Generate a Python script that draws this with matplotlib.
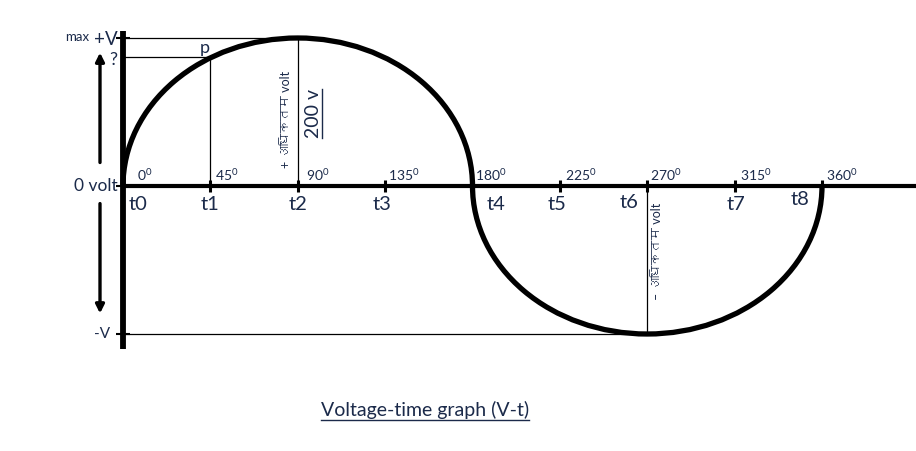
import matplotlib
matplotlib.use("Agg")
import matplotlib.pyplot as plt
from matplotlib.patches import Arc
from matplotlib import font_manager
from matplotlib.ft2font import FT2Font

# ---------------- data ----------------
VMAX = 200                      # peak voltage (V)
P_VALUE = 174                   # value at point p (45 deg)
angles = [0, 45, 90, 135, 180, 225, 270, 315, 360]
time_labels = ["t0", "t1", "t2", "t3", "t4", "t5", "t6", "t7", "t8"]
degree_numbers = ["0", "45", "90", "135", "180", "225", "270", "315", "360"]
title_text = "Voltage-time graph (V-t)"
pos_text = "+ अधिकतम volt"
neg_text = "– अधिकतम volt"
peak_text = "200 v"

# ---------------- fonts ----------------
deva = None
for f in font_manager.fontManager.ttflist:
    try:
        if 0x0905 in FT2Font(f.fname).get_charmap():
            deva = f.name
            break
    except Exception:
        pass
BASE = ["Lato", "DejaVu Sans"]
DEVA = ["Lato"] + ([deva] if deva else []) + ["DejaVu Sans"]
plt.rcParams["font.family"] = BASE
plt.rcParams["mathtext.default"] = "regular"

NAVY = "#1b2a4a"
INK = "#000000"

# ---------------- layout ----------------
W, H = 916, 451
fig = plt.figure(figsize=(W / 100, H / 100), dpi=100)
ax = fig.add_axes([0, 0, 1, 1])
ax.set_axis_off()
kx = (822 - 123) / 360.0          # px per degree
ky = 148.0 / VMAX                 # px per volt
ax.set_xlim(-123 / kx, (W - 123) / kx)
ax.set_ylim(-(H - 186) / ky, 186 / ky)

# axes lines
ax.plot([0, 0], [-1.10 * VMAX, 1.05 * VMAX], color=INK, lw=4.2, solid_capstyle="butt", zorder=3)
ax.plot([0, 420], [0, 0], color=INK, lw=3.0, solid_capstyle="butt", zorder=3)

# sine-like curve (hand drawn semi-ellipses)
ax.add_patch(Arc((angles[2], 0), angles[4] - angles[0], 2 * VMAX, theta1=0, theta2=180,
                 color=INK, lw=3.8, zorder=4))
ax.add_patch(Arc((angles[6], 0), angles[8] - angles[4], 2 * VMAX, theta1=180, theta2=360,
                 color=INK, lw=3.8, zorder=4))

# thin guide lines
thin = dict(color=INK, lw=0.9, zorder=2)
ax.plot([0, angles[2]], [VMAX, VMAX], **thin)
ax.plot([angles[2], angles[2]], [0, VMAX], **thin)
ax.plot([0, angles[1]], [P_VALUE, P_VALUE], **thin)
ax.plot([angles[1], angles[1]], [0, P_VALUE], **thin)
ax.plot([0, angles[6]], [-VMAX, -VMAX], **thin)
ax.plot([angles[6], angles[6]], [0, -VMAX], **thin)

# tick marks
ax.plot(angles[1:], [0] * (len(angles) - 1), ls="none", marker="|", ms=9, mew=2.2, color=INK, zorder=3)
ax.plot([0, 0, 0], [VMAX, 0, -VMAX], ls="none", marker="_", ms=10, mew=1.5, color=INK, zorder=3)

# arrows on the left
arrow_x = -23 / kx
ax.annotate("", xy=(arrow_x, 0.92 * VMAX), xytext=(arrow_x, 0.14 * VMAX),
            arrowprops=dict(arrowstyle="-|>,head_length=0.5,head_width=0.25", lw=2.4, color=INK))
ax.annotate("", xy=(arrow_x, -0.88 * VMAX), xytext=(arrow_x, -0.1 * VMAX),
            arrowprops=dict(arrowstyle="-|>,head_length=0.5,head_width=0.25", lw=2.4, color=INK))

# time labels below axis
t_off = [(11, -13), (0, -13), (0, -13), (-2, -13), (17, -13), (-2, -13), (-13, -12), (1, -13), (-16, -10)]
for a, lab, (dx, dy) in zip(angles, time_labels, t_off):
    ax.annotate(lab, (a, 0), xytext=(dx, dy), textcoords="offset points",
                ha="center", va="center", fontsize=14.5, color=NAVY)

# degree labels above axis
d_off = [(10, 2), (3, 2), (6, 2), (2, 2), (2, 2), (4, 2), (2, 2), (4, 2), (3, 2)]
for a, num, (dx, dy) in zip(angles, degree_numbers, d_off):
    ax.annotate(num + "$^{0}$", (a, 0), xytext=(dx, dy), textcoords="offset points",
                ha="left", va="bottom", fontsize=10, color=NAVY)

# y-axis labels
ax.annotate("0 volt", (0, 0), xytext=(-4, 0), textcoords="offset points",
            ha="right", va="center", fontsize=12.5, color=NAVY)
ax.annotate("+V", (0, VMAX), xytext=(-4, -1), textcoords="offset points",
            ha="right", va="center", fontsize=13.5, color=NAVY)
ax.annotate("max", (0, VMAX), xytext=(-24, 1), textcoords="offset points",
            ha="right", va="center", fontsize=9.5, color=NAVY)
ax.annotate("?", (0, P_VALUE), xytext=(-4, -2), textcoords="offset points",
            ha="right", va="center", fontsize=13, color=NAVY)
ax.annotate("-V", (0, -VMAX), xytext=(-9, 0), textcoords="offset points",
            ha="right", va="center", fontsize=11, color=NAVY)
ax.annotate("p", (angles[1], P_VALUE), xytext=(-4, 1), textcoords="offset points",
            ha="center", va="bottom", fontsize=13, color=NAVY)

# vertical annotations
ax.annotate(pos_text, (angles[2], 0.45 * VMAX), xytext=(-4, 0), textcoords="offset points",
            ha="right", va="center", rotation=90, fontsize=9, color=NAVY, family=DEVA)
pk = ax.annotate(peak_text, (angles[2], 0.49 * VMAX), xytext=(11, 0), textcoords="offset points",
                 ha="center", va="center", rotation=90, fontsize=14, color=NAVY)
ax.annotate(neg_text, (angles[6], -0.44 * VMAX), xytext=(3, 0), textcoords="offset points",
            ha="left", va="center", rotation=90, fontsize=9, color=NAVY, family=DEVA)

ttl = fig.text(425 / W, 1 - 410 / H, title_text, ha="center", va="center", fontsize=14, color=NAVY)

# underlines
fig.canvas.draw()
r = fig.canvas.get_renderer()
inv = fig.transFigure.inverted()
bb = ttl.get_window_extent(r)
(x0, y0), (x1, y1) = inv.transform([(bb.x0, bb.y0), (bb.x1, bb.y1)])
fig.add_artist(plt.Line2D([x0, x1], [y0 - 0.002, y0 - 0.002], color=NAVY, lw=1.0))
bb = pk.get_window_extent(r)
(x0, y0), (x1, y1) = inv.transform([(bb.x0, bb.y0), (bb.x1, bb.y1)])
fig.add_artist(plt.Line2D([x1 + 0.001, x1 + 0.001], [y0, y1], color=NAVY, lw=1.0))

fig.savefig("out.png", dpi=100, facecolor="white")
